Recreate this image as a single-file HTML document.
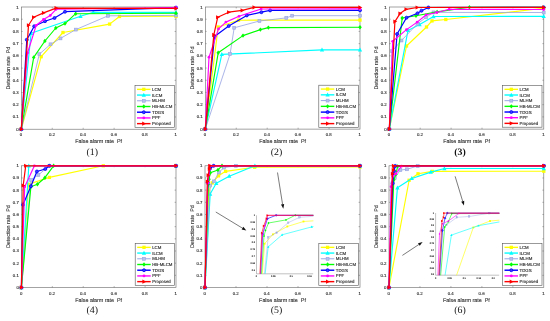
<!DOCTYPE html>
<html lang="en"><head><meta charset="utf-8"><title>ROC curves</title>
<style>
html,body{margin:0;padding:0;background:#fff;}
body{width:550px;height:321px;overflow:hidden;}
svg{display:block;}
text{font-family:"Liberation Sans",sans-serif;fill:#333;text-rendering:geometricPrecision;stroke:#333;stroke-width:0.12px;}
.tk text{font-size:4.3px;fill:#222;}
.itk text{font-size:2.25px;fill:#222;}
.al{font-size:5.36px;fill:#333;}
.lg{font-size:4.35px;fill:#222;}
.cap{font-family:"Liberation Serif",serif;font-size:9.9px;fill:#111;stroke:none;}
</style></head><body>
<svg width="550" height="321" viewBox="0 0 550 321">
<rect width="550" height="321" fill="#fff"/>
<rect x="21.3" y="7" width="154.70" height="122.20" fill="#fff" stroke="#666" stroke-width="0.6"/>
<path d="M52.24 129.2v-1.4M52.24 7v1.4M83.18 129.2v-1.4M83.18 7v1.4M114.12 129.2v-1.4M114.12 7v1.4M145.06 129.2v-1.4M145.06 7v1.4M21.3 116.98h1.4M176 116.98h-1.4M21.3 104.76h1.4M176 104.76h-1.4M21.3 92.54h1.4M176 92.54h-1.4M21.3 80.32h1.4M176 80.32h-1.4M21.3 68.10h1.4M176 68.10h-1.4M21.3 55.88h1.4M176 55.88h-1.4M21.3 43.66h1.4M176 43.66h-1.4M21.3 31.44h1.4M176 31.44h-1.4M21.3 19.22h1.4M176 19.22h-1.4" stroke="#666" stroke-width="0.5" fill="none"/>
<g class="tk">
<text x="21.00" y="136.3" text-anchor="middle">0</text>
<text x="51.94" y="136.3" text-anchor="middle">0.2</text>
<text x="82.88" y="136.3" text-anchor="middle">0.4</text>
<text x="113.82" y="136.3" text-anchor="middle">0.6</text>
<text x="144.76" y="136.3" text-anchor="middle">0.8</text>
<text x="175.70" y="136.3" text-anchor="middle">1</text>
<text x="18.70" y="130.70" text-anchor="end">0</text>
<text x="18.70" y="118.48" text-anchor="end">0.1</text>
<text x="18.70" y="106.26" text-anchor="end">0.2</text>
<text x="18.70" y="94.04" text-anchor="end">0.3</text>
<text x="18.70" y="81.82" text-anchor="end">0.4</text>
<text x="18.70" y="69.60" text-anchor="end">0.5</text>
<text x="18.70" y="57.38" text-anchor="end">0.6</text>
<text x="18.70" y="45.16" text-anchor="end">0.7</text>
<text x="18.70" y="32.94" text-anchor="end">0.8</text>
<text x="18.70" y="20.72" text-anchor="end">0.9</text>
<text x="18.70" y="8.50" text-anchor="end">1</text>
</g>
<text class="al" x="98.65" y="143.4" text-anchor="middle" xml:space="preserve">False alarm rate  Pf</text>
<text class="al" transform="translate(10.10 68.10) rotate(-90)" text-anchor="middle" xml:space="preserve">Detection rate  Pd</text>
<text class="cap" x="92.3" y="154.9" text-anchor="middle">(1)</text>
<path d="M21.30 129.20L41.20 56.70L63.00 32.50L109.60 24.10L119.50 16.50L176.00 16.30" fill="none" stroke="#ffff00" stroke-width="1.15" stroke-linejoin="round"/>
<rect x="19.65" y="127.55" width="3.30" height="3.30" fill="#ffff00"/>
<rect x="39.55" y="55.05" width="3.30" height="3.30" fill="#ffff00"/>
<rect x="61.35" y="30.85" width="3.30" height="3.30" fill="#ffff00"/>
<rect x="107.95" y="22.45" width="3.30" height="3.30" fill="#ffff00"/>
<rect x="117.85" y="14.85" width="3.30" height="3.30" fill="#ffff00"/>
<rect x="174.35" y="14.65" width="3.30" height="3.30" fill="#ffff00"/>
<path d="M21.30 129.20L31.10 33.30L80.50 16.30L93.30 12.20L176.00 12.40" fill="none" stroke="#00ffff" stroke-width="1.15" stroke-linejoin="round"/>
<path d="M21.30 126.85L23.41 130.84L19.19 130.84Z" fill="#00ffff"/>
<path d="M31.10 30.95L33.22 34.95L28.98 34.95Z" fill="#00ffff"/>
<path d="M80.50 13.95L82.61 17.95L78.39 17.95Z" fill="#00ffff"/>
<path d="M93.30 9.85L95.41 13.84L91.19 13.84Z" fill="#00ffff"/>
<path d="M176.00 10.05L178.12 14.04L173.88 14.04Z" fill="#00ffff"/>
<path d="M21.30 129.20L39.30 54.20L50.50 44.30L60.50 38.40L75.80 29.60L108.10 15.80L176.00 15.40" fill="none" stroke="#95a2e2" stroke-width="0.80" stroke-linejoin="round"/>
<rect x="19.85" y="127.75" width="2.90" height="2.90" fill="#b9c1ea" stroke="#95a2e2" stroke-width="0.60"/>
<rect x="37.85" y="52.75" width="2.90" height="2.90" fill="#b9c1ea" stroke="#95a2e2" stroke-width="0.60"/>
<rect x="49.05" y="42.85" width="2.90" height="2.90" fill="#b9c1ea" stroke="#95a2e2" stroke-width="0.60"/>
<rect x="59.05" y="36.95" width="2.90" height="2.90" fill="#b9c1ea" stroke="#95a2e2" stroke-width="0.60"/>
<rect x="74.35" y="28.15" width="2.90" height="2.90" fill="#b9c1ea" stroke="#95a2e2" stroke-width="0.60"/>
<rect x="106.65" y="14.35" width="2.90" height="2.90" fill="#b9c1ea" stroke="#95a2e2" stroke-width="0.60"/>
<rect x="174.55" y="13.95" width="2.90" height="2.90" fill="#b9c1ea" stroke="#95a2e2" stroke-width="0.60"/>
<path d="M21.30 129.20L33.70 57.40L44.90 41.00L55.80 28.00L65.00 23.60L75.70 13.70L176.00 13.20" fill="none" stroke="#00ff00" stroke-width="1.15" stroke-linejoin="round"/>
<path d="M21.30 127.00L23.06 129.20L21.30 131.40L19.54 129.20Z" fill="#00ff00"/>
<path d="M33.70 55.20L35.46 57.40L33.70 59.60L31.94 57.40Z" fill="#00ff00"/>
<path d="M44.90 38.80L46.66 41.00L44.90 43.20L43.14 41.00Z" fill="#00ff00"/>
<path d="M55.80 25.80L57.56 28.00L55.80 30.20L54.04 28.00Z" fill="#00ff00"/>
<path d="M65.00 21.40L66.76 23.60L65.00 25.80L63.24 23.60Z" fill="#00ff00"/>
<path d="M75.70 11.50L77.46 13.70L75.70 15.90L73.94 13.70Z" fill="#00ff00"/>
<path d="M176.00 11.00L177.76 13.20L176.00 15.40L174.24 13.20Z" fill="#00ff00"/>
<path d="M21.30 129.20L26.80 39.70L34.20 26.30L45.00 21.20L54.50 18.00L65.00 11.70L176.00 7.60" fill="none" stroke="#0000ff" stroke-width="1.20" stroke-linejoin="round"/>
<circle cx="21.30" cy="129.20" r="1.50" fill="#3a3aff" stroke="#0000ff" stroke-width="0.80"/>
<circle cx="26.80" cy="39.70" r="1.50" fill="#3a3aff" stroke="#0000ff" stroke-width="0.80"/>
<circle cx="34.20" cy="26.30" r="1.50" fill="#3a3aff" stroke="#0000ff" stroke-width="0.80"/>
<circle cx="45.00" cy="21.20" r="1.50" fill="#3a3aff" stroke="#0000ff" stroke-width="0.80"/>
<circle cx="54.50" cy="18.00" r="1.50" fill="#3a3aff" stroke="#0000ff" stroke-width="0.80"/>
<circle cx="65.00" cy="11.70" r="1.50" fill="#3a3aff" stroke="#0000ff" stroke-width="0.80"/>
<circle cx="176.00" cy="7.60" r="1.50" fill="#3a3aff" stroke="#0000ff" stroke-width="0.80"/>
<path d="M21.30 129.20L27.50 53.00L36.20 25.30L43.50 19.50L50.30 15.40L56.10 9.30L176.00 7.60" fill="none" stroke="#ff00ff" stroke-width="1.15" stroke-linejoin="round"/>
<circle cx="21.30" cy="129.20" r="1.40" fill="#ff00ff"/>
<circle cx="27.50" cy="53.00" r="1.40" fill="#ff00ff"/>
<circle cx="36.20" cy="25.30" r="1.40" fill="#ff00ff"/>
<circle cx="43.50" cy="19.50" r="1.40" fill="#ff00ff"/>
<circle cx="50.30" cy="15.40" r="1.40" fill="#ff00ff"/>
<circle cx="56.10" cy="9.30" r="1.40" fill="#ff00ff"/>
<circle cx="176.00" cy="7.60" r="1.40" fill="#ff00ff"/>
<path d="M21.30 129.20L28.50 25.30L33.60 17.30L43.50 12.90L56.10 8.10L176.00 8.40" fill="none" stroke="#ff0000" stroke-width="1.20" stroke-linejoin="round"/>
<path d="M23.60 129.20L19.69 127.13L19.69 131.27Z" fill="#ff0000"/>
<path d="M30.80 25.30L26.89 23.23L26.89 27.37Z" fill="#ff0000"/>
<path d="M35.90 17.30L31.99 15.23L31.99 19.37Z" fill="#ff0000"/>
<path d="M45.80 12.90L41.89 10.83L41.89 14.97Z" fill="#ff0000"/>
<path d="M58.40 8.10L54.49 6.03L54.49 10.17Z" fill="#ff0000"/>
<path d="M178.30 8.40L174.39 6.33L174.39 10.47Z" fill="#ff0000"/>
<rect x="135" y="85.5" width="39.50" height="42.00" fill="#fff" stroke="#555" stroke-width="0.6"/>
<path d="M137.00 89.36H150.50" stroke="#ffff00" stroke-width="1.38"/>
<rect x="142.15" y="87.71" width="3.30" height="3.30" fill="#ffff00"/>
<text class="lg" x="152.00" y="90.86">LCM</text>
<path d="M137.00 95.07H150.50" stroke="#00ffff" stroke-width="1.38"/>
<path d="M143.80 92.72L145.92 96.72L141.69 96.72Z" fill="#00ffff"/>
<text class="lg" x="152.00" y="96.57">ILCM</text>
<path d="M137.00 100.79H150.50" stroke="#95a2e2" stroke-width="0.96"/>
<rect x="142.35" y="99.34" width="2.90" height="2.90" fill="#b9c1ea" stroke="#95a2e2" stroke-width="0.60"/>
<text class="lg" x="152.00" y="102.29">MLHM</text>
<path d="M137.00 106.50H150.50" stroke="#00ff00" stroke-width="1.38"/>
<path d="M143.80 104.30L145.56 106.50L143.80 108.70L142.04 106.50Z" fill="#00ff00"/>
<text class="lg" x="152.00" y="108.00">HB-MLCM</text>
<path d="M137.00 112.21H150.50" stroke="#0000ff" stroke-width="1.44"/>
<circle cx="143.80" cy="112.21" r="1.50" fill="#3a3aff" stroke="#0000ff" stroke-width="0.80"/>
<text class="lg" x="152.00" y="113.71">TDGS</text>
<path d="M137.00 117.93H150.50" stroke="#ff00ff" stroke-width="1.38"/>
<circle cx="143.80" cy="117.93" r="1.40" fill="#ff00ff"/>
<text class="lg" x="152.00" y="119.43">PPF</text>
<path d="M137.00 123.64H150.50" stroke="#ff0000" stroke-width="1.44"/>
<path d="M146.10 123.64L142.19 121.57L142.19 125.71Z" fill="#ff0000"/>
<text class="lg" x="152.00" y="125.14">Proposed</text>
<rect x="205.3" y="7" width="154.70" height="122.10" fill="#fff" stroke="#666" stroke-width="0.6"/>
<path d="M236.24 129.1v-1.4M236.24 7v1.4M267.18 129.1v-1.4M267.18 7v1.4M298.12 129.1v-1.4M298.12 7v1.4M329.06 129.1v-1.4M329.06 7v1.4M205.3 116.89h1.4M360 116.89h-1.4M205.3 104.68h1.4M360 104.68h-1.4M205.3 92.47h1.4M360 92.47h-1.4M205.3 80.26h1.4M360 80.26h-1.4M205.3 68.05h1.4M360 68.05h-1.4M205.3 55.84h1.4M360 55.84h-1.4M205.3 43.63h1.4M360 43.63h-1.4M205.3 31.42h1.4M360 31.42h-1.4M205.3 19.21h1.4M360 19.21h-1.4" stroke="#666" stroke-width="0.5" fill="none"/>
<g class="tk">
<text x="205.00" y="136.3" text-anchor="middle">0</text>
<text x="235.94" y="136.3" text-anchor="middle">0.2</text>
<text x="266.88" y="136.3" text-anchor="middle">0.4</text>
<text x="297.82" y="136.3" text-anchor="middle">0.6</text>
<text x="328.76" y="136.3" text-anchor="middle">0.8</text>
<text x="359.70" y="136.3" text-anchor="middle">1</text>
<text x="202.70" y="130.60" text-anchor="end">0</text>
<text x="202.70" y="118.39" text-anchor="end">0.1</text>
<text x="202.70" y="106.18" text-anchor="end">0.2</text>
<text x="202.70" y="93.97" text-anchor="end">0.3</text>
<text x="202.70" y="81.76" text-anchor="end">0.4</text>
<text x="202.70" y="69.55" text-anchor="end">0.5</text>
<text x="202.70" y="57.34" text-anchor="end">0.6</text>
<text x="202.70" y="45.13" text-anchor="end">0.7</text>
<text x="202.70" y="32.92" text-anchor="end">0.8</text>
<text x="202.70" y="20.71" text-anchor="end">0.9</text>
<text x="202.70" y="8.50" text-anchor="end">1</text>
</g>
<text class="al" x="282.65" y="143.4" text-anchor="middle" xml:space="preserve">False alarm rate  Pf</text>
<text class="al" transform="translate(194.10 68.05) rotate(-90)" text-anchor="middle" xml:space="preserve">Detection rate  Pd</text>
<text class="cap" x="276.5" y="154.9" text-anchor="middle">(2)</text>
<path d="M205.30 129.10L218.20 27.00L238.50 20.20L360.00 20.10" fill="none" stroke="#ffff00" stroke-width="1.15" stroke-linejoin="round"/>
<rect x="203.65" y="127.45" width="3.30" height="3.30" fill="#ffff00"/>
<rect x="216.55" y="25.35" width="3.30" height="3.30" fill="#ffff00"/>
<rect x="236.85" y="18.55" width="3.30" height="3.30" fill="#ffff00"/>
<rect x="358.35" y="18.45" width="3.30" height="3.30" fill="#ffff00"/>
<path d="M205.30 129.10L221.80 54.40L322.00 49.90L360.00 49.90" fill="none" stroke="#00ffff" stroke-width="1.15" stroke-linejoin="round"/>
<path d="M205.30 126.75L207.42 130.75L203.19 130.75Z" fill="#00ffff"/>
<path d="M221.80 52.05L223.92 56.05L219.69 56.05Z" fill="#00ffff"/>
<path d="M322.00 47.55L324.12 51.55L319.88 51.55Z" fill="#00ffff"/>
<path d="M360.00 47.55L362.12 51.55L357.88 51.55Z" fill="#00ffff"/>
<path d="M205.30 129.10L230.10 54.00L234.20 27.80L259.40 21.00L286.30 17.90L292.20 15.70L360.00 15.70" fill="none" stroke="#95a2e2" stroke-width="0.80" stroke-linejoin="round"/>
<rect x="203.85" y="127.65" width="2.90" height="2.90" fill="#b9c1ea" stroke="#95a2e2" stroke-width="0.60"/>
<rect x="228.65" y="52.55" width="2.90" height="2.90" fill="#b9c1ea" stroke="#95a2e2" stroke-width="0.60"/>
<rect x="232.75" y="26.35" width="2.90" height="2.90" fill="#b9c1ea" stroke="#95a2e2" stroke-width="0.60"/>
<rect x="257.95" y="19.55" width="2.90" height="2.90" fill="#b9c1ea" stroke="#95a2e2" stroke-width="0.60"/>
<rect x="284.85" y="16.45" width="2.90" height="2.90" fill="#b9c1ea" stroke="#95a2e2" stroke-width="0.60"/>
<rect x="290.75" y="14.25" width="2.90" height="2.90" fill="#b9c1ea" stroke="#95a2e2" stroke-width="0.60"/>
<rect x="358.55" y="14.25" width="2.90" height="2.90" fill="#b9c1ea" stroke="#95a2e2" stroke-width="0.60"/>
<path d="M205.30 129.10L218.20 52.80L243.00 35.60L260.40 29.60L268.40 27.60L360.00 27.30" fill="none" stroke="#00ff00" stroke-width="1.15" stroke-linejoin="round"/>
<path d="M205.30 126.90L207.06 129.10L205.30 131.30L203.54 129.10Z" fill="#00ff00"/>
<path d="M218.20 50.60L219.96 52.80L218.20 55.00L216.44 52.80Z" fill="#00ff00"/>
<path d="M243.00 33.40L244.76 35.60L243.00 37.80L241.24 35.60Z" fill="#00ff00"/>
<path d="M260.40 27.40L262.16 29.60L260.40 31.80L258.64 29.60Z" fill="#00ff00"/>
<path d="M268.40 25.40L270.16 27.60L268.40 29.80L266.64 27.60Z" fill="#00ff00"/>
<path d="M360.00 25.10L361.76 27.30L360.00 29.50L358.24 27.30Z" fill="#00ff00"/>
<path d="M205.30 129.10L214.50 36.40L228.70 26.00L246.80 15.40L261.40 12.20L270.10 10.40L360.00 10.30" fill="none" stroke="#0000ff" stroke-width="1.20" stroke-linejoin="round"/>
<circle cx="205.30" cy="129.10" r="1.50" fill="#3a3aff" stroke="#0000ff" stroke-width="0.80"/>
<circle cx="214.50" cy="36.40" r="1.50" fill="#3a3aff" stroke="#0000ff" stroke-width="0.80"/>
<circle cx="228.70" cy="26.00" r="1.50" fill="#3a3aff" stroke="#0000ff" stroke-width="0.80"/>
<circle cx="246.80" cy="15.40" r="1.50" fill="#3a3aff" stroke="#0000ff" stroke-width="0.80"/>
<circle cx="261.40" cy="12.20" r="1.50" fill="#3a3aff" stroke="#0000ff" stroke-width="0.80"/>
<circle cx="270.10" cy="10.40" r="1.50" fill="#3a3aff" stroke="#0000ff" stroke-width="0.80"/>
<circle cx="360.00" cy="10.30" r="1.50" fill="#3a3aff" stroke="#0000ff" stroke-width="0.80"/>
<path d="M205.30 129.10L209.00 57.20L218.50 28.90L225.90 22.10L239.00 16.30L261.10 9.00L360.00 8.90" fill="none" stroke="#ff00ff" stroke-width="1.15" stroke-linejoin="round"/>
<circle cx="205.30" cy="129.10" r="1.40" fill="#ff00ff"/>
<circle cx="209.00" cy="57.20" r="1.40" fill="#ff00ff"/>
<circle cx="218.50" cy="28.90" r="1.40" fill="#ff00ff"/>
<circle cx="225.90" cy="22.10" r="1.40" fill="#ff00ff"/>
<circle cx="239.00" cy="16.30" r="1.40" fill="#ff00ff"/>
<circle cx="261.10" cy="9.00" r="1.40" fill="#ff00ff"/>
<circle cx="360.00" cy="8.90" r="1.40" fill="#ff00ff"/>
<path d="M205.30 129.10L213.80 34.90L217.70 17.30L228.70 12.20L242.20 10.40L254.10 7.40L360.00 7.40" fill="none" stroke="#ff0000" stroke-width="1.20" stroke-linejoin="round"/>
<path d="M207.60 129.10L203.69 127.03L203.69 131.17Z" fill="#ff0000"/>
<path d="M216.10 34.90L212.19 32.83L212.19 36.97Z" fill="#ff0000"/>
<path d="M220.00 17.30L216.09 15.23L216.09 19.37Z" fill="#ff0000"/>
<path d="M231.00 12.20L227.09 10.13L227.09 14.27Z" fill="#ff0000"/>
<path d="M244.50 10.40L240.59 8.33L240.59 12.47Z" fill="#ff0000"/>
<path d="M256.40 7.40L252.49 5.33L252.49 9.47Z" fill="#ff0000"/>
<path d="M362.30 7.40L358.39 5.33L358.39 9.47Z" fill="#ff0000"/>
<rect x="318.8" y="85.2" width="39.50" height="42.30" fill="#fff" stroke="#555" stroke-width="0.6"/>
<path d="M320.80 89.08H334.30" stroke="#ffff00" stroke-width="1.38"/>
<rect x="325.95" y="87.43" width="3.30" height="3.30" fill="#ffff00"/>
<text class="lg" x="335.80" y="90.58">LCM</text>
<path d="M320.80 94.84H334.30" stroke="#00ffff" stroke-width="1.38"/>
<path d="M327.60 92.49L329.72 96.48L325.49 96.48Z" fill="#00ffff"/>
<text class="lg" x="335.80" y="96.34">ILCM</text>
<path d="M320.80 100.59H334.30" stroke="#95a2e2" stroke-width="0.96"/>
<rect x="326.15" y="99.14" width="2.90" height="2.90" fill="#b9c1ea" stroke="#95a2e2" stroke-width="0.60"/>
<text class="lg" x="335.80" y="102.09">MLHM</text>
<path d="M320.80 106.35H334.30" stroke="#00ff00" stroke-width="1.38"/>
<path d="M327.60 104.15L329.36 106.35L327.60 108.55L325.84 106.35Z" fill="#00ff00"/>
<text class="lg" x="335.80" y="107.85">HB-MLCM</text>
<path d="M320.80 112.11H334.30" stroke="#0000ff" stroke-width="1.44"/>
<circle cx="327.60" cy="112.11" r="1.50" fill="#3a3aff" stroke="#0000ff" stroke-width="0.80"/>
<text class="lg" x="335.80" y="113.61">TDGS</text>
<path d="M320.80 117.86H334.30" stroke="#ff00ff" stroke-width="1.38"/>
<circle cx="327.60" cy="117.86" r="1.40" fill="#ff00ff"/>
<text class="lg" x="335.80" y="119.36">PPF</text>
<path d="M320.80 123.62H334.30" stroke="#ff0000" stroke-width="1.44"/>
<path d="M329.90 123.62L325.99 121.55L325.99 125.69Z" fill="#ff0000"/>
<text class="lg" x="335.80" y="125.12">Proposed</text>
<rect x="389.3" y="7" width="154.50" height="122.10" fill="#fff" stroke="#666" stroke-width="0.6"/>
<path d="M420.20 129.1v-1.4M420.20 7v1.4M451.10 129.1v-1.4M451.10 7v1.4M482.00 129.1v-1.4M482.00 7v1.4M512.90 129.1v-1.4M512.90 7v1.4M389.3 116.89h1.4M543.8 116.89h-1.4M389.3 104.68h1.4M543.8 104.68h-1.4M389.3 92.47h1.4M543.8 92.47h-1.4M389.3 80.26h1.4M543.8 80.26h-1.4M389.3 68.05h1.4M543.8 68.05h-1.4M389.3 55.84h1.4M543.8 55.84h-1.4M389.3 43.63h1.4M543.8 43.63h-1.4M389.3 31.42h1.4M543.8 31.42h-1.4M389.3 19.21h1.4M543.8 19.21h-1.4" stroke="#666" stroke-width="0.5" fill="none"/>
<g class="tk">
<text x="389.00" y="136.3" text-anchor="middle">0</text>
<text x="419.90" y="136.3" text-anchor="middle">0.2</text>
<text x="450.80" y="136.3" text-anchor="middle">0.4</text>
<text x="481.70" y="136.3" text-anchor="middle">0.6</text>
<text x="512.60" y="136.3" text-anchor="middle">0.8</text>
<text x="543.50" y="136.3" text-anchor="middle">1</text>
<text x="386.70" y="130.60" text-anchor="end">0</text>
<text x="386.70" y="118.39" text-anchor="end">0.1</text>
<text x="386.70" y="106.18" text-anchor="end">0.2</text>
<text x="386.70" y="93.97" text-anchor="end">0.3</text>
<text x="386.70" y="81.76" text-anchor="end">0.4</text>
<text x="386.70" y="69.55" text-anchor="end">0.5</text>
<text x="386.70" y="57.34" text-anchor="end">0.6</text>
<text x="386.70" y="45.13" text-anchor="end">0.7</text>
<text x="386.70" y="32.92" text-anchor="end">0.8</text>
<text x="386.70" y="20.71" text-anchor="end">0.9</text>
<text x="386.70" y="8.50" text-anchor="end">1</text>
</g>
<text class="al" x="466.55" y="143.4" text-anchor="middle" xml:space="preserve">False alarm rate  Pf</text>
<text class="al" transform="translate(378.10 68.05) rotate(-90)" text-anchor="middle" xml:space="preserve">Detection rate  Pd</text>
<text class="cap" font-weight="bold" x="460" y="154.9" text-anchor="middle">(3)</text>
<path d="M389.30 129.10L406.50 46.00L426.50 27.00L432.00 20.90L445.80 19.50L543.70 8.30" fill="none" stroke="#ffff00" stroke-width="1.15" stroke-linejoin="round"/>
<rect x="387.65" y="127.45" width="3.30" height="3.30" fill="#ffff00"/>
<rect x="404.85" y="44.35" width="3.30" height="3.30" fill="#ffff00"/>
<rect x="424.85" y="25.35" width="3.30" height="3.30" fill="#ffff00"/>
<rect x="430.35" y="19.25" width="3.30" height="3.30" fill="#ffff00"/>
<rect x="444.15" y="17.85" width="3.30" height="3.30" fill="#ffff00"/>
<rect x="542.05" y="6.65" width="3.30" height="3.30" fill="#ffff00"/>
<path d="M389.30 129.10L408.00 30.40L419.60 24.50L433.50 16.50L543.70 16.40" fill="none" stroke="#00ffff" stroke-width="1.15" stroke-linejoin="round"/>
<path d="M389.30 126.75L391.42 130.75L387.19 130.75Z" fill="#00ffff"/>
<path d="M408.00 28.05L410.12 32.05L405.88 32.05Z" fill="#00ffff"/>
<path d="M419.60 22.15L421.72 26.14L417.49 26.14Z" fill="#00ffff"/>
<path d="M433.50 14.15L435.62 18.14L431.38 18.14Z" fill="#00ffff"/>
<path d="M543.70 14.05L545.82 18.04L541.59 18.04Z" fill="#00ffff"/>
<path d="M389.30 129.10L392.00 51.20L401.50 40.50L417.50 23.80L426.20 17.30L433.50 12.40L543.70 12.50" fill="none" stroke="#95a2e2" stroke-width="0.80" stroke-linejoin="round"/>
<rect x="387.85" y="127.65" width="2.90" height="2.90" fill="#b9c1ea" stroke="#95a2e2" stroke-width="0.60"/>
<rect x="390.55" y="49.75" width="2.90" height="2.90" fill="#b9c1ea" stroke="#95a2e2" stroke-width="0.60"/>
<rect x="400.05" y="39.05" width="2.90" height="2.90" fill="#b9c1ea" stroke="#95a2e2" stroke-width="0.60"/>
<rect x="416.05" y="22.35" width="2.90" height="2.90" fill="#b9c1ea" stroke="#95a2e2" stroke-width="0.60"/>
<rect x="424.75" y="15.85" width="2.90" height="2.90" fill="#b9c1ea" stroke="#95a2e2" stroke-width="0.60"/>
<rect x="432.05" y="10.95" width="2.90" height="2.90" fill="#b9c1ea" stroke="#95a2e2" stroke-width="0.60"/>
<rect x="542.25" y="11.05" width="2.90" height="2.90" fill="#b9c1ea" stroke="#95a2e2" stroke-width="0.60"/>
<path d="M389.30 129.10L402.20 18.00L416.00 15.80L437.10 11.90L469.40 7.20L543.70 7.40" fill="none" stroke="#00ff00" stroke-width="1.15" stroke-linejoin="round"/>
<path d="M389.30 126.90L391.06 129.10L389.30 131.30L387.54 129.10Z" fill="#00ff00"/>
<path d="M402.20 15.80L403.96 18.00L402.20 20.20L400.44 18.00Z" fill="#00ff00"/>
<path d="M416.00 13.60L417.76 15.80L416.00 18.00L414.24 15.80Z" fill="#00ff00"/>
<path d="M437.10 9.70L438.86 11.90L437.10 14.10L435.34 11.90Z" fill="#00ff00"/>
<path d="M469.40 5.00L471.16 7.20L469.40 9.40L467.64 7.20Z" fill="#00ff00"/>
<path d="M543.70 5.20L545.46 7.40L543.70 9.60L541.94 7.40Z" fill="#00ff00"/>
<path d="M389.30 129.10L397.10 34.00L406.50 17.70L417.50 13.30L421.50 10.70L428.40 7.50L543.70 7.40" fill="none" stroke="#0000ff" stroke-width="1.20" stroke-linejoin="round"/>
<circle cx="389.30" cy="129.10" r="1.50" fill="#3a3aff" stroke="#0000ff" stroke-width="0.80"/>
<circle cx="397.10" cy="34.00" r="1.50" fill="#3a3aff" stroke="#0000ff" stroke-width="0.80"/>
<circle cx="406.50" cy="17.70" r="1.50" fill="#3a3aff" stroke="#0000ff" stroke-width="0.80"/>
<circle cx="417.50" cy="13.30" r="1.50" fill="#3a3aff" stroke="#0000ff" stroke-width="0.80"/>
<circle cx="421.50" cy="10.70" r="1.50" fill="#3a3aff" stroke="#0000ff" stroke-width="0.80"/>
<circle cx="428.40" cy="7.50" r="1.50" fill="#3a3aff" stroke="#0000ff" stroke-width="0.80"/>
<circle cx="543.70" cy="7.40" r="1.50" fill="#3a3aff" stroke="#0000ff" stroke-width="0.80"/>
<path d="M389.30 129.10L392.70 41.30L406.50 29.60L417.20 22.10L426.20 14.80L436.70 12.50L449.20 9.30L543.70 9.50" fill="none" stroke="#ff00ff" stroke-width="1.15" stroke-linejoin="round"/>
<circle cx="389.30" cy="129.10" r="1.40" fill="#ff00ff"/>
<circle cx="392.70" cy="41.30" r="1.40" fill="#ff00ff"/>
<circle cx="406.50" cy="29.60" r="1.40" fill="#ff00ff"/>
<circle cx="417.20" cy="22.10" r="1.40" fill="#ff00ff"/>
<circle cx="426.20" cy="14.80" r="1.40" fill="#ff00ff"/>
<circle cx="436.70" cy="12.50" r="1.40" fill="#ff00ff"/>
<circle cx="449.20" cy="9.30" r="1.40" fill="#ff00ff"/>
<circle cx="543.70" cy="9.50" r="1.40" fill="#ff00ff"/>
<path d="M389.30 129.10L394.90 21.60L400.00 13.60L406.10 9.30L417.20 7.50L543.70 7.40" fill="none" stroke="#ff0000" stroke-width="1.20" stroke-linejoin="round"/>
<path d="M391.60 129.10L387.69 127.03L387.69 131.17Z" fill="#ff0000"/>
<path d="M397.20 21.60L393.29 19.53L393.29 23.67Z" fill="#ff0000"/>
<path d="M402.30 13.60L398.39 11.53L398.39 15.67Z" fill="#ff0000"/>
<path d="M408.40 9.30L404.49 7.23L404.49 11.37Z" fill="#ff0000"/>
<path d="M419.50 7.50L415.59 5.43L415.59 9.57Z" fill="#ff0000"/>
<path d="M546.00 7.40L542.09 5.33L542.09 9.47Z" fill="#ff0000"/>
<rect x="502.5" y="85.5" width="39.50" height="41.70" fill="#fff" stroke="#555" stroke-width="0.6"/>
<path d="M504.50 89.34H518.00" stroke="#ffff00" stroke-width="1.38"/>
<rect x="509.65" y="87.69" width="3.30" height="3.30" fill="#ffff00"/>
<text class="lg" x="519.50" y="90.84">LCM</text>
<path d="M504.50 95.01H518.00" stroke="#00ffff" stroke-width="1.38"/>
<path d="M511.30 92.66L513.41 96.65L509.19 96.65Z" fill="#00ffff"/>
<text class="lg" x="519.50" y="96.51">ILCM</text>
<path d="M504.50 100.68H518.00" stroke="#95a2e2" stroke-width="0.96"/>
<rect x="509.85" y="99.23" width="2.90" height="2.90" fill="#b9c1ea" stroke="#95a2e2" stroke-width="0.60"/>
<text class="lg" x="519.50" y="102.18">MLHM</text>
<path d="M504.50 106.35H518.00" stroke="#00ff00" stroke-width="1.38"/>
<path d="M511.30 104.15L513.06 106.35L511.30 108.55L509.54 106.35Z" fill="#00ff00"/>
<text class="lg" x="519.50" y="107.85">HB-MLCM</text>
<path d="M504.50 112.02H518.00" stroke="#0000ff" stroke-width="1.44"/>
<circle cx="511.30" cy="112.02" r="1.50" fill="#3a3aff" stroke="#0000ff" stroke-width="0.80"/>
<text class="lg" x="519.50" y="113.52">TDGS</text>
<path d="M504.50 117.69H518.00" stroke="#ff00ff" stroke-width="1.38"/>
<circle cx="511.30" cy="117.69" r="1.40" fill="#ff00ff"/>
<text class="lg" x="519.50" y="119.19">PPF</text>
<path d="M504.50 123.36H518.00" stroke="#ff0000" stroke-width="1.44"/>
<path d="M513.60 123.36L509.69 121.29L509.69 125.43Z" fill="#ff0000"/>
<text class="lg" x="519.50" y="124.86">Proposed</text>
<rect x="21.4" y="165.8" width="154.60" height="121.70" fill="#fff" stroke="#666" stroke-width="0.6"/>
<path d="M52.32 287.5v-1.4M52.32 165.8v1.4M83.24 287.5v-1.4M83.24 165.8v1.4M114.16 287.5v-1.4M114.16 165.8v1.4M145.08 287.5v-1.4M145.08 165.8v1.4M21.4 275.33h1.4M176 275.33h-1.4M21.4 263.16h1.4M176 263.16h-1.4M21.4 250.99h1.4M176 250.99h-1.4M21.4 238.82h1.4M176 238.82h-1.4M21.4 226.65h1.4M176 226.65h-1.4M21.4 214.48h1.4M176 214.48h-1.4M21.4 202.31h1.4M176 202.31h-1.4M21.4 190.14h1.4M176 190.14h-1.4M21.4 177.97h1.4M176 177.97h-1.4" stroke="#666" stroke-width="0.5" fill="none"/>
<g class="tk">
<text x="21.10" y="294.6" text-anchor="middle">0</text>
<text x="52.02" y="294.6" text-anchor="middle">0.2</text>
<text x="82.94" y="294.6" text-anchor="middle">0.4</text>
<text x="113.86" y="294.6" text-anchor="middle">0.6</text>
<text x="144.78" y="294.6" text-anchor="middle">0.8</text>
<text x="175.70" y="294.6" text-anchor="middle">1</text>
<text x="18.80" y="289.00" text-anchor="end">0</text>
<text x="18.80" y="276.83" text-anchor="end">0.1</text>
<text x="18.80" y="264.66" text-anchor="end">0.2</text>
<text x="18.80" y="252.49" text-anchor="end">0.3</text>
<text x="18.80" y="240.32" text-anchor="end">0.4</text>
<text x="18.80" y="228.15" text-anchor="end">0.5</text>
<text x="18.80" y="215.98" text-anchor="end">0.6</text>
<text x="18.80" y="203.81" text-anchor="end">0.7</text>
<text x="18.80" y="191.64" text-anchor="end">0.8</text>
<text x="18.80" y="179.47" text-anchor="end">0.9</text>
<text x="18.80" y="167.30" text-anchor="end">1</text>
</g>
<text class="al" x="98.70" y="301.7" text-anchor="middle" xml:space="preserve">False alarm rate  Pf</text>
<text class="al" transform="translate(10.20 226.65) rotate(-90)" text-anchor="middle" xml:space="preserve">Detection rate  Pd</text>
<text class="cap" x="92.3" y="312.8" text-anchor="middle">(4)</text>
<path d="M21.40 287.50L28.50 184.30L49.40 177.40L103.30 165.80L176.00 165.80" fill="none" stroke="#ffff00" stroke-width="1.15" stroke-linejoin="round"/>
<rect x="19.75" y="285.85" width="3.30" height="3.30" fill="#ffff00"/>
<rect x="26.85" y="182.65" width="3.30" height="3.30" fill="#ffff00"/>
<rect x="47.75" y="175.75" width="3.30" height="3.30" fill="#ffff00"/>
<rect x="101.65" y="164.15" width="3.30" height="3.30" fill="#ffff00"/>
<rect x="174.35" y="164.15" width="3.30" height="3.30" fill="#ffff00"/>
<path d="M21.40 287.50L28.80 165.80L176.00 165.80" fill="none" stroke="#00ffff" stroke-width="1.15" stroke-linejoin="round"/>
<path d="M21.40 285.15L23.52 289.14L19.28 289.14Z" fill="#00ffff"/>
<path d="M28.80 163.45L30.91 167.45L26.69 167.45Z" fill="#00ffff"/>
<path d="M176.00 163.45L178.12 167.45L173.88 167.45Z" fill="#00ffff"/>
<path d="M21.40 287.50L30.90 179.90L38.40 174.90L49.40 165.80L176.00 165.80" fill="none" stroke="#95a2e2" stroke-width="0.80" stroke-linejoin="round"/>
<rect x="19.95" y="286.05" width="2.90" height="2.90" fill="#b9c1ea" stroke="#95a2e2" stroke-width="0.60"/>
<rect x="29.45" y="178.45" width="2.90" height="2.90" fill="#b9c1ea" stroke="#95a2e2" stroke-width="0.60"/>
<rect x="36.95" y="173.45" width="2.90" height="2.90" fill="#b9c1ea" stroke="#95a2e2" stroke-width="0.60"/>
<rect x="47.95" y="164.35" width="2.90" height="2.90" fill="#b9c1ea" stroke="#95a2e2" stroke-width="0.60"/>
<rect x="174.55" y="164.35" width="2.90" height="2.90" fill="#b9c1ea" stroke="#95a2e2" stroke-width="0.60"/>
<path d="M21.40 287.50L30.90 186.80L37.40 184.30L44.90 177.70L53.60 165.80L176.00 165.80" fill="none" stroke="#00ff00" stroke-width="1.15" stroke-linejoin="round"/>
<path d="M21.40 285.30L23.16 287.50L21.40 289.70L19.64 287.50Z" fill="#00ff00"/>
<path d="M30.90 184.60L32.66 186.80L30.90 189.00L29.14 186.80Z" fill="#00ff00"/>
<path d="M37.40 182.10L39.16 184.30L37.40 186.50L35.64 184.30Z" fill="#00ff00"/>
<path d="M44.90 175.50L46.66 177.70L44.90 179.90L43.14 177.70Z" fill="#00ff00"/>
<path d="M53.60 163.60L55.36 165.80L53.60 168.00L51.84 165.80Z" fill="#00ff00"/>
<path d="M176.00 163.60L177.76 165.80L176.00 168.00L174.24 165.80Z" fill="#00ff00"/>
<path d="M21.40 287.50L23.00 204.70L30.90 186.20L36.90 171.50L45.30 169.00L49.40 165.80L176.00 165.80" fill="none" stroke="#0000ff" stroke-width="1.20" stroke-linejoin="round"/>
<circle cx="21.40" cy="287.50" r="1.50" fill="#3a3aff" stroke="#0000ff" stroke-width="0.80"/>
<circle cx="23.00" cy="204.70" r="1.50" fill="#3a3aff" stroke="#0000ff" stroke-width="0.80"/>
<circle cx="30.90" cy="186.20" r="1.50" fill="#3a3aff" stroke="#0000ff" stroke-width="0.80"/>
<circle cx="36.90" cy="171.50" r="1.50" fill="#3a3aff" stroke="#0000ff" stroke-width="0.80"/>
<circle cx="45.30" cy="169.00" r="1.50" fill="#3a3aff" stroke="#0000ff" stroke-width="0.80"/>
<circle cx="49.40" cy="165.80" r="1.50" fill="#3a3aff" stroke="#0000ff" stroke-width="0.80"/>
<circle cx="176.00" cy="165.80" r="1.50" fill="#3a3aff" stroke="#0000ff" stroke-width="0.80"/>
<path d="M21.40 287.50L24.70 186.80L34.40 165.80L176.00 165.80" fill="none" stroke="#ff00ff" stroke-width="1.15" stroke-linejoin="round"/>
<circle cx="21.40" cy="287.50" r="1.40" fill="#ff00ff"/>
<circle cx="24.70" cy="186.80" r="1.40" fill="#ff00ff"/>
<circle cx="34.40" cy="165.80" r="1.40" fill="#ff00ff"/>
<circle cx="176.00" cy="165.80" r="1.40" fill="#ff00ff"/>
<path d="M21.40 287.50L23.20 185.50L25.70 165.80L176.00 165.80" fill="none" stroke="#ff0000" stroke-width="1.20" stroke-linejoin="round"/>
<path d="M23.70 287.50L19.79 285.43L19.79 289.57Z" fill="#ff0000"/>
<path d="M25.50 185.50L21.59 183.43L21.59 187.57Z" fill="#ff0000"/>
<path d="M28.00 165.80L24.09 163.73L24.09 167.87Z" fill="#ff0000"/>
<path d="M178.30 165.80L174.39 163.73L174.39 167.87Z" fill="#ff0000"/>
<rect x="135.2" y="243.5" width="39.30" height="42.00" fill="#fff" stroke="#555" stroke-width="0.6"/>
<path d="M137.20 247.36H150.70" stroke="#ffff00" stroke-width="1.38"/>
<rect x="142.35" y="245.71" width="3.30" height="3.30" fill="#ffff00"/>
<text class="lg" x="152.20" y="248.86">LCM</text>
<path d="M137.20 253.07H150.70" stroke="#00ffff" stroke-width="1.38"/>
<path d="M144.00 250.72L146.12 254.72L141.88 254.72Z" fill="#00ffff"/>
<text class="lg" x="152.20" y="254.57">ILCM</text>
<path d="M137.20 258.79H150.70" stroke="#95a2e2" stroke-width="0.96"/>
<rect x="142.55" y="257.34" width="2.90" height="2.90" fill="#b9c1ea" stroke="#95a2e2" stroke-width="0.60"/>
<text class="lg" x="152.20" y="260.29">MLHM</text>
<path d="M137.20 264.50H150.70" stroke="#00ff00" stroke-width="1.38"/>
<path d="M144.00 262.30L145.76 264.50L144.00 266.70L142.24 264.50Z" fill="#00ff00"/>
<text class="lg" x="152.20" y="266.00">HB-MLCM</text>
<path d="M137.20 270.21H150.70" stroke="#0000ff" stroke-width="1.44"/>
<circle cx="144.00" cy="270.21" r="1.50" fill="#3a3aff" stroke="#0000ff" stroke-width="0.80"/>
<text class="lg" x="152.20" y="271.71">TDGS</text>
<path d="M137.20 275.93H150.70" stroke="#ff00ff" stroke-width="1.38"/>
<circle cx="144.00" cy="275.93" r="1.40" fill="#ff00ff"/>
<text class="lg" x="152.20" y="277.43">PPF</text>
<path d="M137.20 281.64H150.70" stroke="#ff0000" stroke-width="1.44"/>
<path d="M146.30 281.64L142.39 279.57L142.39 283.71Z" fill="#ff0000"/>
<text class="lg" x="152.20" y="283.14">Proposed</text>
<rect x="205" y="165.8" width="155.00" height="121.70" fill="#fff" stroke="#666" stroke-width="0.6"/>
<path d="M236.00 287.5v-1.4M236.00 165.8v1.4M267.00 287.5v-1.4M267.00 165.8v1.4M298.00 287.5v-1.4M298.00 165.8v1.4M329.00 287.5v-1.4M329.00 165.8v1.4M205 275.33h1.4M360 275.33h-1.4M205 263.16h1.4M360 263.16h-1.4M205 250.99h1.4M360 250.99h-1.4M205 238.82h1.4M360 238.82h-1.4M205 226.65h1.4M360 226.65h-1.4M205 214.48h1.4M360 214.48h-1.4M205 202.31h1.4M360 202.31h-1.4M205 190.14h1.4M360 190.14h-1.4M205 177.97h1.4M360 177.97h-1.4" stroke="#666" stroke-width="0.5" fill="none"/>
<g class="tk">
<text x="204.70" y="294.6" text-anchor="middle">0</text>
<text x="235.70" y="294.6" text-anchor="middle">0.2</text>
<text x="266.70" y="294.6" text-anchor="middle">0.4</text>
<text x="297.70" y="294.6" text-anchor="middle">0.6</text>
<text x="328.70" y="294.6" text-anchor="middle">0.8</text>
<text x="359.70" y="294.6" text-anchor="middle">1</text>
<text x="202.40" y="289.00" text-anchor="end">0</text>
<text x="202.40" y="276.83" text-anchor="end">0.1</text>
<text x="202.40" y="264.66" text-anchor="end">0.2</text>
<text x="202.40" y="252.49" text-anchor="end">0.3</text>
<text x="202.40" y="240.32" text-anchor="end">0.4</text>
<text x="202.40" y="228.15" text-anchor="end">0.5</text>
<text x="202.40" y="215.98" text-anchor="end">0.6</text>
<text x="202.40" y="203.81" text-anchor="end">0.7</text>
<text x="202.40" y="191.64" text-anchor="end">0.8</text>
<text x="202.40" y="179.47" text-anchor="end">0.9</text>
<text x="202.40" y="167.30" text-anchor="end">1</text>
</g>
<text class="al" x="282.50" y="301.7" text-anchor="middle" xml:space="preserve">False alarm rate  Pf</text>
<text class="al" transform="translate(193.80 226.65) rotate(-90)" text-anchor="middle" xml:space="preserve">Detection rate  Pd</text>
<text class="cap" x="276.5" y="312.8" text-anchor="middle">(5)</text>
<path d="M205.00 287.50L208.59 191.21L212.22 182.89L218.53 175.82L225.62 171.35L254.60 167.26L360.00 167.02" fill="none" stroke="#ffff00" stroke-width="1.15" stroke-linejoin="round"/>
<rect x="203.35" y="285.85" width="3.30" height="3.30" fill="#ffff00"/>
<rect x="206.94" y="189.56" width="3.30" height="3.30" fill="#ffff00"/>
<rect x="210.57" y="181.24" width="3.30" height="3.30" fill="#ffff00"/>
<rect x="216.88" y="174.17" width="3.30" height="3.30" fill="#ffff00"/>
<rect x="223.97" y="169.70" width="3.30" height="3.30" fill="#ffff00"/>
<rect x="252.95" y="165.61" width="3.30" height="3.30" fill="#ffff00"/>
<rect x="358.35" y="165.37" width="3.30" height="3.30" fill="#ffff00"/>
<path d="M205.00 287.50L210.17 194.08L216.25 183.25L229.21 176.18L254.91 165.80L360.00 165.80" fill="none" stroke="#00ffff" stroke-width="1.15" stroke-linejoin="round"/>
<path d="M205.00 285.15L207.12 289.14L202.88 289.14Z" fill="#00ffff"/>
<path d="M210.17 191.73L212.28 195.72L208.05 195.72Z" fill="#00ffff"/>
<path d="M216.25 180.90L218.37 184.89L214.14 184.89Z" fill="#00ffff"/>
<path d="M229.21 173.83L231.33 177.83L227.10 177.83Z" fill="#00ffff"/>
<path d="M254.91 163.45L257.02 167.45L252.79 167.45Z" fill="#00ffff"/>
<path d="M360.00 163.45L362.12 167.45L357.88 167.45Z" fill="#00ffff"/>
<path d="M205.00 287.50L210.17 185.58L213.89 181.37L218.92 172.42L223.92 167.59L236.00 165.80L360.00 165.80" fill="none" stroke="#95a2e2" stroke-width="0.80" stroke-linejoin="round"/>
<rect x="203.55" y="286.05" width="2.90" height="2.90" fill="#b9c1ea" stroke="#95a2e2" stroke-width="0.60"/>
<rect x="208.72" y="184.13" width="2.90" height="2.90" fill="#b9c1ea" stroke="#95a2e2" stroke-width="0.60"/>
<rect x="212.44" y="179.92" width="2.90" height="2.90" fill="#b9c1ea" stroke="#95a2e2" stroke-width="0.60"/>
<rect x="217.47" y="170.97" width="2.90" height="2.90" fill="#b9c1ea" stroke="#95a2e2" stroke-width="0.60"/>
<rect x="222.47" y="166.14" width="2.90" height="2.90" fill="#b9c1ea" stroke="#95a2e2" stroke-width="0.60"/>
<rect x="234.55" y="164.35" width="2.90" height="2.90" fill="#b9c1ea" stroke="#95a2e2" stroke-width="0.60"/>
<rect x="358.55" y="164.35" width="2.90" height="2.90" fill="#b9c1ea" stroke="#95a2e2" stroke-width="0.60"/>
<path d="M205.00 287.50L208.33 184.41L208.98 179.31L210.30 172.69L217.96 169.92L221.99 165.80L360.00 165.80" fill="none" stroke="#00ff00" stroke-width="1.15" stroke-linejoin="round"/>
<path d="M205.00 285.30L206.76 287.50L205.00 289.70L203.24 287.50Z" fill="#00ff00"/>
<path d="M208.33 182.21L210.09 184.41L208.33 186.61L206.57 184.41Z" fill="#00ff00"/>
<path d="M208.98 177.11L210.74 179.31L208.98 181.51L207.22 179.31Z" fill="#00ff00"/>
<path d="M210.30 170.49L212.06 172.69L210.30 174.89L208.54 172.69Z" fill="#00ff00"/>
<path d="M217.96 167.72L219.72 169.92L217.96 172.12L216.20 169.92Z" fill="#00ff00"/>
<path d="M221.99 163.60L223.75 165.80L221.99 168.00L220.23 165.80Z" fill="#00ff00"/>
<path d="M360.00 163.60L361.76 165.80L360.00 168.00L358.24 165.80Z" fill="#00ff00"/>
<path d="M205.00 287.50L207.76 182.71L209.82 168.84L213.63 165.80L360.00 165.80" fill="none" stroke="#0000ff" stroke-width="1.20" stroke-linejoin="round"/>
<circle cx="205.00" cy="287.50" r="1.50" fill="#3a3aff" stroke="#0000ff" stroke-width="0.80"/>
<circle cx="207.76" cy="182.71" r="1.50" fill="#3a3aff" stroke="#0000ff" stroke-width="0.80"/>
<circle cx="209.82" cy="168.84" r="1.50" fill="#3a3aff" stroke="#0000ff" stroke-width="0.80"/>
<circle cx="213.63" cy="165.80" r="1.50" fill="#3a3aff" stroke="#0000ff" stroke-width="0.80"/>
<circle cx="360.00" cy="165.80" r="1.50" fill="#3a3aff" stroke="#0000ff" stroke-width="0.80"/>
<path d="M205.00 287.50L207.58 183.25L208.77 174.93L209.47 169.11L209.90 165.89L360.00 165.80" fill="none" stroke="#ff00ff" stroke-width="1.15" stroke-linejoin="round"/>
<circle cx="205.00" cy="287.50" r="1.40" fill="#ff00ff"/>
<circle cx="207.58" cy="183.25" r="1.40" fill="#ff00ff"/>
<circle cx="208.77" cy="174.93" r="1.40" fill="#ff00ff"/>
<circle cx="209.47" cy="169.11" r="1.40" fill="#ff00ff"/>
<circle cx="209.90" cy="165.89" r="1.40" fill="#ff00ff"/>
<circle cx="360.00" cy="165.80" r="1.40" fill="#ff00ff"/>
<path d="M205.00 287.50L207.36 181.55L208.20 175.29L209.42 168.84L209.82 165.80L360.00 165.80" fill="none" stroke="#ff0000" stroke-width="1.20" stroke-linejoin="round"/>
<path d="M207.30 287.50L203.39 285.43L203.39 289.57Z" fill="#ff0000"/>
<path d="M209.66 181.55L205.75 179.48L205.75 183.62Z" fill="#ff0000"/>
<path d="M210.50 175.29L206.59 173.22L206.59 177.36Z" fill="#ff0000"/>
<path d="M211.72 168.84L207.81 166.77L207.81 170.91Z" fill="#ff0000"/>
<path d="M212.12 165.80L208.21 163.73L208.21 167.87Z" fill="#ff0000"/>
<path d="M362.30 165.80L358.39 163.73L358.39 167.87Z" fill="#ff0000"/>
<rect x="247.5" y="211.3" width="69.70" height="68.50" fill="#fff"/>
<path d="M256.5 215.3V273.8H313.2" fill="none" stroke="#777" stroke-width="0.45"/>
<g class="itk">
<text x="256.40" y="277.40" text-anchor="middle">0</text>
<text x="273.30" y="277.40" text-anchor="middle">0.05</text>
<text x="291.30" y="277.40" text-anchor="middle">0.1</text>
<text x="309.50" y="277.40" text-anchor="middle">0.15</text>
<text x="255.00" y="216.20" text-anchor="end">1</text>
<text x="255.00" y="223.00" text-anchor="end">0.95</text>
<text x="255.00" y="229.80" text-anchor="end">0.9</text>
<text x="255.00" y="236.60" text-anchor="end">0.85</text>
<text x="255.00" y="243.40" text-anchor="end">0.8</text>
<text x="255.00" y="250.20" text-anchor="end">0.75</text>
<text x="255.00" y="257.00" text-anchor="end">0.7</text>
<text x="255.00" y="263.80" text-anchor="end">0.65</text>
<text x="255.00" y="270.60" text-anchor="end">0.6</text>
</g>
<clipPath id="c5"><rect x="255.5" y="213.3" width="57.90" height="60.50"/></clipPath>
<g clip-path="url(#c5)"><path d="M256.40 351.30L264.60 243.70L272.90 234.40L287.30 226.50L303.50 221.50L369.68 216.93L610.40 216.66" fill="none" stroke="#ffff00" stroke-width="0.60" stroke-linejoin="round"/>
<rect x="255.49" y="350.39" width="1.81" height="1.81" fill="#ffff00"/>
<rect x="263.69" y="242.79" width="1.81" height="1.81" fill="#ffff00"/>
<rect x="271.99" y="233.49" width="1.81" height="1.81" fill="#ffff00"/>
<rect x="286.39" y="225.59" width="1.81" height="1.81" fill="#ffff00"/>
<rect x="302.59" y="220.59" width="1.81" height="1.81" fill="#ffff00"/>
<rect x="368.77" y="216.02" width="1.81" height="1.81" fill="#ffff00"/>
<rect x="609.49" y="215.75" width="1.81" height="1.81" fill="#ffff00"/>
<path d="M256.40 351.30L268.20 246.90L282.10 234.80L311.70 226.90L370.39 215.30L610.40 215.30" fill="none" stroke="#00ffff" stroke-width="0.60" stroke-linejoin="round"/>
<path d="M256.40 350.01L257.56 352.20L255.24 352.20Z" fill="#00ffff"/>
<path d="M268.20 245.61L269.36 247.80L267.04 247.80Z" fill="#00ffff"/>
<path d="M282.10 233.51L283.26 235.70L280.94 235.70Z" fill="#00ffff"/>
<path d="M311.70 225.61L312.86 227.80L310.54 227.80Z" fill="#00ffff"/>
<path d="M370.39 214.01L371.55 216.20L369.22 216.20Z" fill="#00ffff"/>
<path d="M610.40 214.01L611.56 216.20L609.24 216.20Z" fill="#00ffff"/>
<path d="M256.40 351.30L268.20 237.40L276.70 232.70L288.20 222.70L299.60 217.30L327.20 215.30L610.40 215.30" fill="none" stroke="#95a2e2" stroke-width="0.42" stroke-linejoin="round"/>
<rect x="255.60" y="350.50" width="1.59" height="1.59" fill="#b9c1ea" stroke="#95a2e2" stroke-width="0.33"/>
<rect x="267.40" y="236.60" width="1.59" height="1.59" fill="#b9c1ea" stroke="#95a2e2" stroke-width="0.33"/>
<rect x="275.90" y="231.90" width="1.59" height="1.59" fill="#b9c1ea" stroke="#95a2e2" stroke-width="0.33"/>
<rect x="287.40" y="221.90" width="1.59" height="1.59" fill="#b9c1ea" stroke="#95a2e2" stroke-width="0.33"/>
<rect x="298.80" y="216.50" width="1.59" height="1.59" fill="#b9c1ea" stroke="#95a2e2" stroke-width="0.33"/>
<rect x="326.40" y="214.50" width="1.59" height="1.59" fill="#b9c1ea" stroke="#95a2e2" stroke-width="0.33"/>
<rect x="609.60" y="214.50" width="1.59" height="1.59" fill="#b9c1ea" stroke="#95a2e2" stroke-width="0.33"/>
<path d="M256.40 351.30L264.00 236.10L265.50 230.40L268.50 223.00L286.00 219.90L295.20 215.30L610.40 215.30" fill="none" stroke="#00ff00" stroke-width="0.60" stroke-linejoin="round"/>
<path d="M256.40 350.09L257.37 351.30L256.40 352.51L255.43 351.30Z" fill="#00ff00"/>
<path d="M264.00 234.89L264.97 236.10L264.00 237.31L263.03 236.10Z" fill="#00ff00"/>
<path d="M265.50 229.19L266.47 230.40L265.50 231.61L264.53 230.40Z" fill="#00ff00"/>
<path d="M268.50 221.79L269.47 223.00L268.50 224.21L267.53 223.00Z" fill="#00ff00"/>
<path d="M286.00 218.69L286.97 219.90L286.00 221.11L285.03 219.90Z" fill="#00ff00"/>
<path d="M295.20 214.09L296.17 215.30L295.20 216.51L294.23 215.30Z" fill="#00ff00"/>
<path d="M610.40 214.09L611.37 215.30L610.40 216.51L609.43 215.30Z" fill="#00ff00"/>
<path d="M256.40 351.30L262.70 234.20L267.40 218.70L276.10 215.30L610.40 215.30" fill="none" stroke="#0000ff" stroke-width="0.62" stroke-linejoin="round"/>
<circle cx="256.40" cy="351.30" r="0.83" fill="#3a3aff" stroke="#0000ff" stroke-width="0.44"/>
<circle cx="262.70" cy="234.20" r="0.83" fill="#3a3aff" stroke="#0000ff" stroke-width="0.44"/>
<circle cx="267.40" cy="218.70" r="0.83" fill="#3a3aff" stroke="#0000ff" stroke-width="0.44"/>
<circle cx="276.10" cy="215.30" r="0.83" fill="#3a3aff" stroke="#0000ff" stroke-width="0.44"/>
<circle cx="610.40" cy="215.30" r="0.83" fill="#3a3aff" stroke="#0000ff" stroke-width="0.44"/>
<path d="M256.40 351.30L262.30 234.80L265.00 225.50L266.60 219.00L267.60 215.40L610.40 215.30" fill="none" stroke="#ff00ff" stroke-width="0.60" stroke-linejoin="round"/>
<circle cx="256.40" cy="351.30" r="0.77" fill="#ff00ff"/>
<circle cx="262.30" cy="234.80" r="0.77" fill="#ff00ff"/>
<circle cx="265.00" cy="225.50" r="0.77" fill="#ff00ff"/>
<circle cx="266.60" cy="219.00" r="0.77" fill="#ff00ff"/>
<circle cx="267.60" cy="215.40" r="0.77" fill="#ff00ff"/>
<circle cx="610.40" cy="215.30" r="0.77" fill="#ff00ff"/>
<path d="M256.40 351.30L261.80 232.90L263.70 225.90L266.50 218.70L267.40 215.30L610.40 215.30" fill="none" stroke="#ff0000" stroke-width="0.62" stroke-linejoin="round"/>
<path d="M257.66 351.30L255.51 350.16L255.51 352.44Z" fill="#ff0000"/>
<path d="M263.06 232.90L260.91 231.76L260.91 234.04Z" fill="#ff0000"/>
<path d="M264.96 225.90L262.81 224.76L262.81 227.04Z" fill="#ff0000"/>
<path d="M267.76 218.70L265.61 217.56L265.61 219.84Z" fill="#ff0000"/>
<path d="M268.66 215.30L266.51 214.16L266.51 216.44Z" fill="#ff0000"/>
<path d="M611.66 215.30L609.51 214.16L609.51 216.44Z" fill="#ff0000"/></g>
<path d="M215.80 212.00L242.45 228.17" stroke="#222" stroke-width="0.6" fill="none"/><path d="M246.30 230.50L241.62 229.53L243.28 226.80Z" fill="#111"/>
<path d="M277.50 172.50L282.59 204.36" stroke="#222" stroke-width="0.6" fill="none"/><path d="M283.30 208.80L281.01 204.61L284.17 204.10Z" fill="#111"/>
<rect x="318.8" y="243.5" width="39.50" height="42.00" fill="#fff" stroke="#555" stroke-width="0.6"/>
<path d="M320.80 247.36H334.30" stroke="#ffff00" stroke-width="1.38"/>
<rect x="325.95" y="245.71" width="3.30" height="3.30" fill="#ffff00"/>
<text class="lg" x="335.80" y="248.86">LCM</text>
<path d="M320.80 253.07H334.30" stroke="#00ffff" stroke-width="1.38"/>
<path d="M327.60 250.72L329.72 254.72L325.49 254.72Z" fill="#00ffff"/>
<text class="lg" x="335.80" y="254.57">ILCM</text>
<path d="M320.80 258.79H334.30" stroke="#95a2e2" stroke-width="0.96"/>
<rect x="326.15" y="257.34" width="2.90" height="2.90" fill="#b9c1ea" stroke="#95a2e2" stroke-width="0.60"/>
<text class="lg" x="335.80" y="260.29">MLHM</text>
<path d="M320.80 264.50H334.30" stroke="#00ff00" stroke-width="1.38"/>
<path d="M327.60 262.30L329.36 264.50L327.60 266.70L325.84 264.50Z" fill="#00ff00"/>
<text class="lg" x="335.80" y="266.00">HB-MLCM</text>
<path d="M320.80 270.21H334.30" stroke="#0000ff" stroke-width="1.44"/>
<circle cx="327.60" cy="270.21" r="1.50" fill="#3a3aff" stroke="#0000ff" stroke-width="0.80"/>
<text class="lg" x="335.80" y="271.71">TDGS</text>
<path d="M320.80 275.93H334.30" stroke="#ff00ff" stroke-width="1.38"/>
<circle cx="327.60" cy="275.93" r="1.40" fill="#ff00ff"/>
<text class="lg" x="335.80" y="277.43">PPF</text>
<path d="M320.80 281.64H334.30" stroke="#ff0000" stroke-width="1.44"/>
<path d="M329.90 281.64L325.99 279.57L325.99 283.71Z" fill="#ff0000"/>
<text class="lg" x="335.80" y="283.14">Proposed</text>
<rect x="389" y="165.8" width="154.80" height="121.70" fill="#fff" stroke="#666" stroke-width="0.6"/>
<path d="M419.96 287.5v-1.4M419.96 165.8v1.4M450.92 287.5v-1.4M450.92 165.8v1.4M481.88 287.5v-1.4M481.88 165.8v1.4M512.84 287.5v-1.4M512.84 165.8v1.4M389 275.33h1.4M543.8 275.33h-1.4M389 263.16h1.4M543.8 263.16h-1.4M389 250.99h1.4M543.8 250.99h-1.4M389 238.82h1.4M543.8 238.82h-1.4M389 226.65h1.4M543.8 226.65h-1.4M389 214.48h1.4M543.8 214.48h-1.4M389 202.31h1.4M543.8 202.31h-1.4M389 190.14h1.4M543.8 190.14h-1.4M389 177.97h1.4M543.8 177.97h-1.4" stroke="#666" stroke-width="0.5" fill="none"/>
<g class="tk">
<text x="388.70" y="294.6" text-anchor="middle">0</text>
<text x="419.66" y="294.6" text-anchor="middle">0.2</text>
<text x="450.62" y="294.6" text-anchor="middle">0.4</text>
<text x="481.58" y="294.6" text-anchor="middle">0.6</text>
<text x="512.54" y="294.6" text-anchor="middle">0.8</text>
<text x="543.50" y="294.6" text-anchor="middle">1</text>
<text x="386.40" y="289.00" text-anchor="end">0</text>
<text x="386.40" y="276.83" text-anchor="end">0.1</text>
<text x="386.40" y="264.66" text-anchor="end">0.2</text>
<text x="386.40" y="252.49" text-anchor="end">0.3</text>
<text x="386.40" y="240.32" text-anchor="end">0.4</text>
<text x="386.40" y="228.15" text-anchor="end">0.5</text>
<text x="386.40" y="215.98" text-anchor="end">0.6</text>
<text x="386.40" y="203.81" text-anchor="end">0.7</text>
<text x="386.40" y="191.64" text-anchor="end">0.8</text>
<text x="386.40" y="179.47" text-anchor="end">0.9</text>
<text x="386.40" y="167.30" text-anchor="end">1</text>
</g>
<text class="al" x="466.40" y="301.7" text-anchor="middle" xml:space="preserve">False alarm rate  Pf</text>
<text class="al" transform="translate(377.80 226.65) rotate(-90)" text-anchor="middle" xml:space="preserve">Detection rate  Pd</text>
<text class="cap" x="460" y="312.8" text-anchor="middle">(6)</text>
<path d="M389.00 287.50L409.12 180.26L418.04 173.78L432.30 171.40L543.80 171.20" fill="none" stroke="#ffff00" stroke-width="1.15" stroke-linejoin="round"/>
<rect x="387.35" y="285.85" width="3.30" height="3.30" fill="#ffff00"/>
<rect x="407.47" y="178.61" width="3.30" height="3.30" fill="#ffff00"/>
<rect x="416.39" y="172.13" width="3.30" height="3.30" fill="#ffff00"/>
<rect x="430.65" y="169.75" width="3.30" height="3.30" fill="#ffff00"/>
<rect x="542.15" y="169.55" width="3.30" height="3.30" fill="#ffff00"/>
<path d="M389.00 287.50L397.43 187.85L411.85 178.47L430.80 172.10L444.40 168.50L543.80 168.50" fill="none" stroke="#00ffff" stroke-width="1.15" stroke-linejoin="round"/>
<path d="M389.00 285.15L391.12 289.14L386.88 289.14Z" fill="#00ffff"/>
<path d="M397.43 185.50L399.55 189.49L395.32 189.49Z" fill="#00ffff"/>
<path d="M411.85 176.12L413.96 180.11L409.73 180.11Z" fill="#00ffff"/>
<path d="M430.80 169.75L432.92 173.75L428.69 173.75Z" fill="#00ffff"/>
<path d="M444.40 166.15L446.51 170.15L442.28 170.15Z" fill="#00ffff"/>
<path d="M543.80 166.15L545.91 170.15L541.68 170.15Z" fill="#00ffff"/>
<path d="M389.00 287.50L392.42 183.26L394.76 177.77L400.37 170.09L406.88 169.29L417.66 166.00L543.80 165.80" fill="none" stroke="#95a2e2" stroke-width="0.80" stroke-linejoin="round"/>
<rect x="387.55" y="286.05" width="2.90" height="2.90" fill="#b9c1ea" stroke="#95a2e2" stroke-width="0.60"/>
<rect x="390.97" y="181.81" width="2.90" height="2.90" fill="#b9c1ea" stroke="#95a2e2" stroke-width="0.60"/>
<rect x="393.31" y="176.32" width="2.90" height="2.90" fill="#b9c1ea" stroke="#95a2e2" stroke-width="0.60"/>
<rect x="398.92" y="168.64" width="2.90" height="2.90" fill="#b9c1ea" stroke="#95a2e2" stroke-width="0.60"/>
<rect x="405.43" y="167.84" width="2.90" height="2.90" fill="#b9c1ea" stroke="#95a2e2" stroke-width="0.60"/>
<rect x="416.21" y="164.55" width="2.90" height="2.90" fill="#b9c1ea" stroke="#95a2e2" stroke-width="0.60"/>
<rect x="542.35" y="164.35" width="2.90" height="2.90" fill="#b9c1ea" stroke="#95a2e2" stroke-width="0.60"/>
<path d="M389.00 287.50L393.86 179.87L395.83 174.38L397.65 166.40L543.80 166.17" fill="none" stroke="#00ff00" stroke-width="1.15" stroke-linejoin="round"/>
<path d="M389.00 285.30L390.76 287.50L389.00 289.70L387.24 287.50Z" fill="#00ff00"/>
<path d="M393.86 177.67L395.62 179.87L393.86 182.07L392.10 179.87Z" fill="#00ff00"/>
<path d="M395.83 172.18L397.59 174.38L395.83 176.58L394.07 174.38Z" fill="#00ff00"/>
<path d="M397.65 164.20L399.41 166.40L397.65 168.60L395.89 166.40Z" fill="#00ff00"/>
<path d="M543.80 163.97L545.56 166.17L543.80 168.37L542.04 166.17Z" fill="#00ff00"/>
<path d="M389.00 287.50L392.68 183.26L394.02 170.99L395.25 165.90L543.80 165.80" fill="none" stroke="#0000ff" stroke-width="1.20" stroke-linejoin="round"/>
<circle cx="389.00" cy="287.50" r="1.50" fill="#3a3aff" stroke="#0000ff" stroke-width="0.80"/>
<circle cx="392.68" cy="183.26" r="1.50" fill="#3a3aff" stroke="#0000ff" stroke-width="0.80"/>
<circle cx="394.02" cy="170.99" r="1.50" fill="#3a3aff" stroke="#0000ff" stroke-width="0.80"/>
<circle cx="395.25" cy="165.90" r="1.50" fill="#3a3aff" stroke="#0000ff" stroke-width="0.80"/>
<circle cx="543.80" cy="165.80" r="1.50" fill="#3a3aff" stroke="#0000ff" stroke-width="0.80"/>
<path d="M389.00 287.50L391.08 186.65L392.58 176.47L395.83 173.78L401.44 166.20L543.80 165.80" fill="none" stroke="#ff00ff" stroke-width="1.15" stroke-linejoin="round"/>
<circle cx="389.00" cy="287.50" r="1.40" fill="#ff00ff"/>
<circle cx="391.08" cy="186.65" r="1.40" fill="#ff00ff"/>
<circle cx="392.58" cy="176.47" r="1.40" fill="#ff00ff"/>
<circle cx="395.83" cy="173.78" r="1.40" fill="#ff00ff"/>
<circle cx="401.44" cy="166.20" r="1.40" fill="#ff00ff"/>
<circle cx="543.80" cy="165.80" r="1.40" fill="#ff00ff"/>
<path d="M389.00 287.50L392.42 173.78L393.27 170.09L393.48 165.90L543.80 165.80" fill="none" stroke="#ff0000" stroke-width="1.20" stroke-linejoin="round"/>
<path d="M391.30 287.50L387.39 285.43L387.39 289.57Z" fill="#ff0000"/>
<path d="M394.72 173.78L390.81 171.71L390.81 175.85Z" fill="#ff0000"/>
<path d="M395.57 170.09L391.66 168.02L391.66 172.16Z" fill="#ff0000"/>
<path d="M395.78 165.90L391.87 163.83L391.87 167.97Z" fill="#ff0000"/>
<path d="M546.10 165.80L542.19 163.73L542.19 167.87Z" fill="#ff0000"/>
<rect x="426.6" y="209.0" width="76.60" height="72.20" fill="#fff"/>
<path d="M435.6 213.0V275.2H499.2" fill="none" stroke="#777" stroke-width="0.45"/>
<g class="itk">
<text x="435.60" y="278.80" text-anchor="middle">0</text>
<text x="449.60" y="278.80" text-anchor="middle">0.05</text>
<text x="464.30" y="278.80" text-anchor="middle">0.1</text>
<text x="478.80" y="278.80" text-anchor="middle">0.15</text>
<text x="493.30" y="278.80" text-anchor="middle">0.2</text>
<text x="434.10" y="213.90" text-anchor="end">1</text>
<text x="434.10" y="220.00" text-anchor="end">0.95</text>
<text x="434.10" y="226.10" text-anchor="end">0.9</text>
<text x="434.10" y="232.20" text-anchor="end">0.85</text>
<text x="434.10" y="238.30" text-anchor="end">0.8</text>
<text x="434.10" y="244.40" text-anchor="end">0.75</text>
<text x="434.10" y="250.50" text-anchor="end">0.7</text>
<text x="434.10" y="256.60" text-anchor="end">0.65</text>
<text x="434.10" y="262.70" text-anchor="end">0.6</text>
<text x="434.10" y="268.80" text-anchor="end">0.55</text>
<text x="434.10" y="274.90" text-anchor="end">0.5</text>
</g>
<clipPath id="c6"><rect x="434.6" y="211.0" width="64.80" height="64.20"/></clipPath>
<g clip-path="url(#c6)"><path d="M435.60 335.00L473.30 227.50L490.00 221.00L516.72 218.61L725.60 218.41" fill="none" stroke="#ffff00" stroke-width="0.60" stroke-linejoin="round"/>
<rect x="434.69" y="334.09" width="1.81" height="1.81" fill="#ffff00"/>
<rect x="472.39" y="226.59" width="1.81" height="1.81" fill="#ffff00"/>
<rect x="489.09" y="220.09" width="1.81" height="1.81" fill="#ffff00"/>
<rect x="515.81" y="217.71" width="1.81" height="1.81" fill="#ffff00"/>
<rect x="724.69" y="217.51" width="1.81" height="1.81" fill="#ffff00"/>
<path d="M435.60 335.00L451.40 235.10L478.40 225.70L513.91 219.32L539.39 215.71L725.60 215.71" fill="none" stroke="#00ffff" stroke-width="0.60" stroke-linejoin="round"/>
<path d="M435.60 333.71L436.76 335.90L434.44 335.90Z" fill="#00ffff"/>
<path d="M451.40 233.81L452.56 236.00L450.24 236.00Z" fill="#00ffff"/>
<path d="M478.40 224.41L479.56 226.60L477.24 226.60Z" fill="#00ffff"/>
<path d="M513.91 218.02L515.07 220.22L512.74 220.22Z" fill="#00ffff"/>
<path d="M539.39 214.41L540.55 216.61L538.22 216.61Z" fill="#00ffff"/>
<path d="M725.60 214.41L726.76 216.61L724.44 216.61Z" fill="#00ffff"/>
<path d="M435.60 335.00L442.00 230.50L446.40 225.00L456.90 217.30L469.10 216.50L489.30 213.20L725.60 213.00" fill="none" stroke="#95a2e2" stroke-width="0.42" stroke-linejoin="round"/>
<rect x="434.80" y="334.20" width="1.59" height="1.59" fill="#b9c1ea" stroke="#95a2e2" stroke-width="0.33"/>
<rect x="441.20" y="229.70" width="1.59" height="1.59" fill="#b9c1ea" stroke="#95a2e2" stroke-width="0.33"/>
<rect x="445.60" y="224.20" width="1.59" height="1.59" fill="#b9c1ea" stroke="#95a2e2" stroke-width="0.33"/>
<rect x="456.10" y="216.50" width="1.59" height="1.59" fill="#b9c1ea" stroke="#95a2e2" stroke-width="0.33"/>
<rect x="468.30" y="215.70" width="1.59" height="1.59" fill="#b9c1ea" stroke="#95a2e2" stroke-width="0.33"/>
<rect x="488.50" y="212.40" width="1.59" height="1.59" fill="#b9c1ea" stroke="#95a2e2" stroke-width="0.33"/>
<rect x="724.80" y="212.20" width="1.59" height="1.59" fill="#b9c1ea" stroke="#95a2e2" stroke-width="0.33"/>
<path d="M435.60 335.00L444.70 227.10L448.40 221.60L451.80 213.60L725.60 213.37" fill="none" stroke="#00ff00" stroke-width="0.60" stroke-linejoin="round"/>
<path d="M435.60 333.79L436.57 335.00L435.60 336.21L434.63 335.00Z" fill="#00ff00"/>
<path d="M444.70 225.89L445.67 227.10L444.70 228.31L443.73 227.10Z" fill="#00ff00"/>
<path d="M448.40 220.39L449.37 221.60L448.40 222.81L447.43 221.60Z" fill="#00ff00"/>
<path d="M451.80 212.39L452.77 213.60L451.80 214.81L450.83 213.60Z" fill="#00ff00"/>
<path d="M725.60 212.16L726.57 213.37L725.60 214.58L724.63 213.37Z" fill="#00ff00"/>
<path d="M435.60 335.00L442.50 230.50L445.00 218.20L447.30 213.10L725.60 213.00" fill="none" stroke="#0000ff" stroke-width="0.62" stroke-linejoin="round"/>
<circle cx="435.60" cy="335.00" r="0.83" fill="#3a3aff" stroke="#0000ff" stroke-width="0.44"/>
<circle cx="442.50" cy="230.50" r="0.83" fill="#3a3aff" stroke="#0000ff" stroke-width="0.44"/>
<circle cx="445.00" cy="218.20" r="0.83" fill="#3a3aff" stroke="#0000ff" stroke-width="0.44"/>
<circle cx="447.30" cy="213.10" r="0.83" fill="#3a3aff" stroke="#0000ff" stroke-width="0.44"/>
<circle cx="725.60" cy="213.00" r="0.83" fill="#3a3aff" stroke="#0000ff" stroke-width="0.44"/>
<path d="M435.60 335.00L439.50 233.90L442.30 223.70L448.40 221.00L458.90 213.40L725.60 213.00" fill="none" stroke="#ff00ff" stroke-width="0.60" stroke-linejoin="round"/>
<circle cx="435.60" cy="335.00" r="0.77" fill="#ff00ff"/>
<circle cx="439.50" cy="233.90" r="0.77" fill="#ff00ff"/>
<circle cx="442.30" cy="223.70" r="0.77" fill="#ff00ff"/>
<circle cx="448.40" cy="221.00" r="0.77" fill="#ff00ff"/>
<circle cx="458.90" cy="213.40" r="0.77" fill="#ff00ff"/>
<circle cx="725.60" cy="213.00" r="0.77" fill="#ff00ff"/>
<path d="M435.60 335.00L442.00 221.00L443.60 217.30L444.00 213.10L725.60 213.00" fill="none" stroke="#ff0000" stroke-width="0.62" stroke-linejoin="round"/>
<path d="M436.87 335.00L434.71 333.86L434.71 336.14Z" fill="#ff0000"/>
<path d="M443.26 221.00L441.11 219.86L441.11 222.14Z" fill="#ff0000"/>
<path d="M444.87 217.30L442.71 216.16L442.71 218.44Z" fill="#ff0000"/>
<path d="M445.26 213.10L443.11 211.96L443.11 214.24Z" fill="#ff0000"/>
<path d="M726.87 213.00L724.71 211.86L724.71 214.14Z" fill="#ff0000"/></g>
<path d="M455.10 176.30L462.69 201.29" stroke="#222" stroke-width="0.6" fill="none"/><path d="M464.00 205.60L461.16 201.76L464.22 200.83Z" fill="#111"/>
<path d="M402.40 255.40L418.85 244.49" stroke="#222" stroke-width="0.6" fill="none"/><path d="M422.60 242.00L419.73 245.82L417.97 243.15Z" fill="#111"/>
<rect x="502.5" y="243.5" width="39.50" height="42.00" fill="#fff" stroke="#555" stroke-width="0.6"/>
<path d="M504.50 247.36H518.00" stroke="#ffff00" stroke-width="1.38"/>
<rect x="509.65" y="245.71" width="3.30" height="3.30" fill="#ffff00"/>
<text class="lg" x="519.50" y="248.86">LCM</text>
<path d="M504.50 253.07H518.00" stroke="#00ffff" stroke-width="1.38"/>
<path d="M511.30 250.72L513.41 254.72L509.19 254.72Z" fill="#00ffff"/>
<text class="lg" x="519.50" y="254.57">ILCM</text>
<path d="M504.50 258.79H518.00" stroke="#95a2e2" stroke-width="0.96"/>
<rect x="509.85" y="257.34" width="2.90" height="2.90" fill="#b9c1ea" stroke="#95a2e2" stroke-width="0.60"/>
<text class="lg" x="519.50" y="260.29">MLHM</text>
<path d="M504.50 264.50H518.00" stroke="#00ff00" stroke-width="1.38"/>
<path d="M511.30 262.30L513.06 264.50L511.30 266.70L509.54 264.50Z" fill="#00ff00"/>
<text class="lg" x="519.50" y="266.00">HB-MLCM</text>
<path d="M504.50 270.21H518.00" stroke="#0000ff" stroke-width="1.44"/>
<circle cx="511.30" cy="270.21" r="1.50" fill="#3a3aff" stroke="#0000ff" stroke-width="0.80"/>
<text class="lg" x="519.50" y="271.71">TDGS</text>
<path d="M504.50 275.93H518.00" stroke="#ff00ff" stroke-width="1.38"/>
<circle cx="511.30" cy="275.93" r="1.40" fill="#ff00ff"/>
<text class="lg" x="519.50" y="277.43">PPF</text>
<path d="M504.50 281.64H518.00" stroke="#ff0000" stroke-width="1.44"/>
<path d="M513.60 281.64L509.69 279.57L509.69 283.71Z" fill="#ff0000"/>
<text class="lg" x="519.50" y="283.14">Proposed</text>
</svg>
</body></html>
